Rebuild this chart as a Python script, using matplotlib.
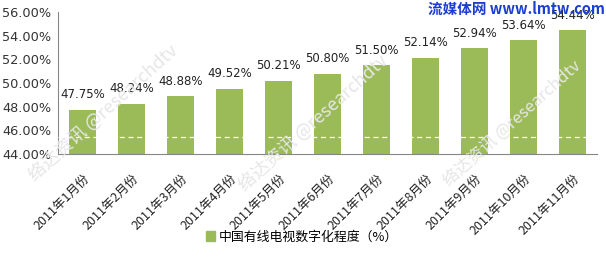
import matplotlib
matplotlib.use("Agg")
import matplotlib.pyplot as plt
from matplotlib.patches import Patch

categories = ["2011年1月份", "2011年2月份", "2011年3月份", "2011年4月份", "2011年5月份",
              "2011年6月份", "2011年7月份", "2011年8月份", "2011年9月份", "2011年10月份",
              "2011年11月份"]
values = [47.75, 48.24, 48.88, 49.52, 50.21, 50.80, 51.50, 52.14, 52.94, 53.64, 54.44]
yticks = [44, 46, 48, 50, 52, 54, 56]
series_name = "中国有线电视数字化程度（%）"

plt.rcParams['font.family'] = ['Noto Sans CJK SC', 'DejaVu Sans']

fig = plt.figure(figsize=(6.06, 2.76), dpi=100)
ax = fig.add_axes([58/606, 1-154/276, (597-58)/606, (154-12)/276])

green = "#9BBB59"
x = list(range(len(categories)))
ax.bar(x, values, width=0.57, color=green, zorder=2)
ax.set_xlim(-0.5, len(categories) - 0.5)
ax.set_ylim(44, 56)
ax.set_yticks(yticks)
ax.set_yticklabels([f"{v:.2f}%" for v in yticks], fontsize=9.3, color="#333333",
                   family=['DejaVu Sans'])
ax.set_xticks(x)
ax.set_xticklabels(categories, rotation=45, ha='right', va='top',
                   rotation_mode='anchor', fontsize=9.0, color="#222222")
ax.tick_params(axis='both', length=0, pad=5)
ax.tick_params(axis='x', pad=13)
for s in ['top', 'right']:
    ax.spines[s].set_visible(False)
for s in ['left', 'bottom']:
    ax.spines[s].set_color("#868686")

ax.axhline(45.45, color='white', lw=0.9, ls=(0, (4, 3)), zorder=3)

for xi, v in zip(x, values):
    ax.annotate(f"{v:.2f}%", (xi, v), xytext=(0, 6), textcoords='offset points',
                ha='center', va='bottom', fontsize=8.5, color="#222222",
                family=['DejaVu Sans'])

fig.legend([Patch(color=green)], [series_name], loc='center',
           bbox_to_anchor=(302/606, 1-237/276), frameon=False, fontsize=9.3,
           handlelength=0.7, handleheight=0.7, handletextpad=0.3)

fig.text(428/606, 1-9/276, "流媒体网 www.lmtw.com", color="#1a3fd0",
         fontsize=10.5, fontweight='bold', va='center', ha='left',
         family=['Noto Sans CJK SC', 'DejaVu Sans'])

wm = "络达资讯 @researchdtv"
for (wx, wy, fs) in [(25, 185, 13), (235, 195, 13), (440, 190, 12)]:
    fig.text(wx/606, 1-wy/276, wm, color="#e6e6e6", fontsize=fs, rotation=42,
             ha='left', va='bottom', zorder=0)

fig.savefig("out.png", dpi=100)
